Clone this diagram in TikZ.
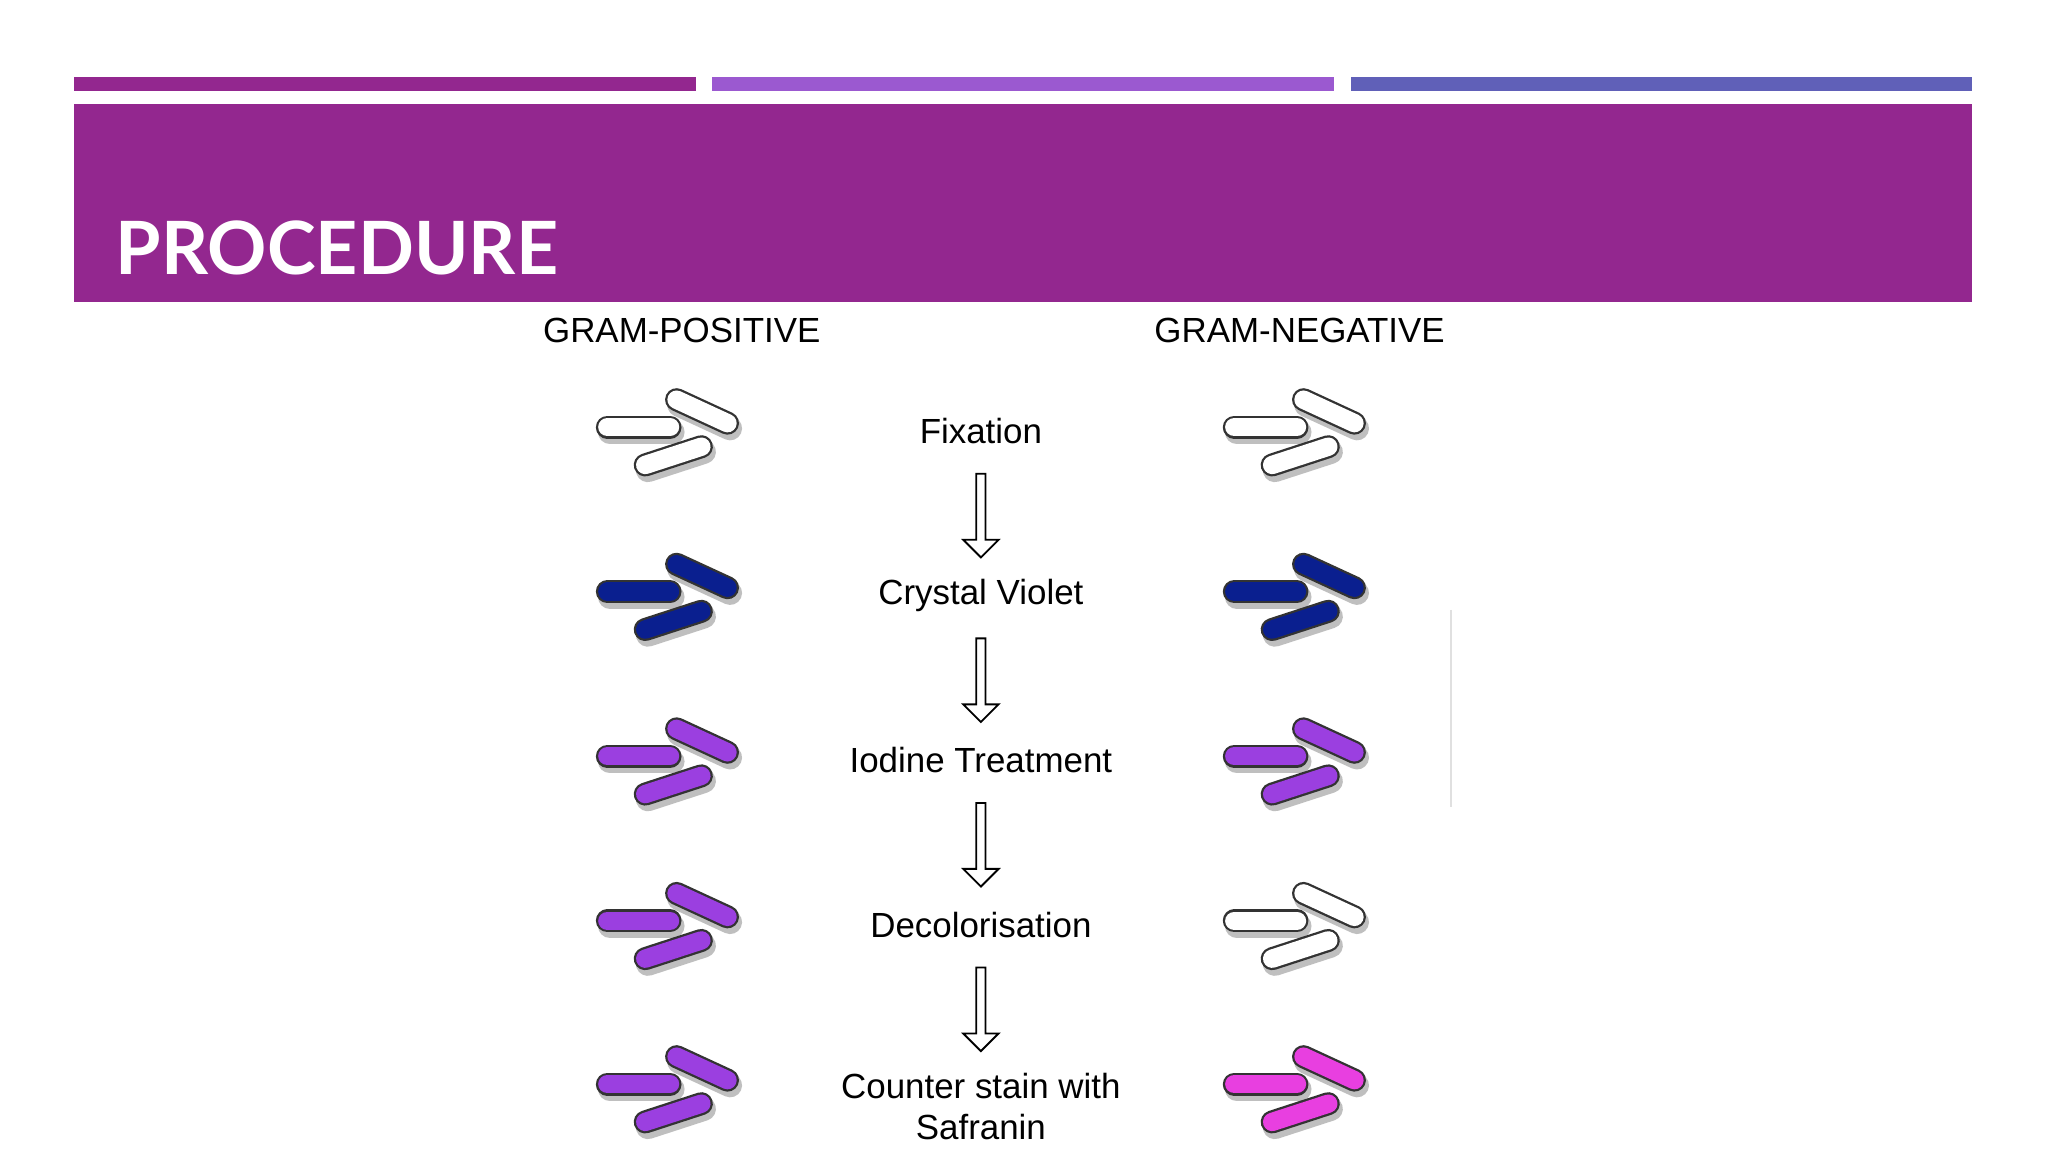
\documentclass[tikz,border=0pt]{standalone}
\usepackage{fontspec}
\setmainfont{Liberation Sans}
\newfontfamily\titlefont{Lato}
\usetikzlibrary{shapes.arrows,positioning}
\definecolor{headpurple}{HTML}{93278F}
\definecolor{barlilac}{HTML}{9B59D0}
\definecolor{barblue}{HTML}{6060B8}
\definecolor{cvnavy}{HTML}{0A1F8F}
\definecolor{iodpurple}{HTML}{9B3FE0}
\definecolor{safpink}{HTML}{E83FE0}
\tikzset{
  steplabel/.style={font=\fontsize{7.6}{9}\selectfont, align=center},
  grouplabel/.style={font=\fontsize{7.6}{9}\selectfont},
  downarrow/.style={single arrow, draw=black, fill=white, line width=0.4pt,
    shape border rotate=270, minimum height=0.64cm, minimum width=0.27cm,
    single arrow head extend=0.07cm, inner sep=0.5pt},
  pics/rods/.style={code={
    \foreach \xa/\ya/\xb/\yb in {-45/-3/3/-3, 8/-24/47/-6, -16/26/27/12}{
      \draw[line width=5.2pt, line cap=round, black!25] (\xa+2,\ya+4) -- (\xb+2,\yb+4);
      \draw[line width=5pt, line cap=round, black!80] (\xa,\ya) -- (\xb,\yb);
      \draw[line width=4pt, line cap=round, #1] (\xa,\ya) -- (\xb,\yb);
    }
  }}
}
\begin{document}
\begin{tikzpicture}[x=0.01cm, y=-0.01cm]
  \useasboundingbox[fill=white] (0,0) rectangle (1568,882);
  % title bars
  \fill[headpurple] (57,59) rectangle (533,70);
  \fill[barlilac] (545,59) rectangle (1021,70);
  \fill[barblue] (1034,59) rectangle (1510,70);
  \fill[headpurple] (57,80) rectangle (1510,231);
  \node[anchor=base west, text=white, font=\titlefont\bfseries\fontsize{16}{19}\selectfont, inner sep=0] (title) at (88,210) {PROCEDURE};
  % column heads
  \node[grouplabel] (pos) at (522,253) {GRAM-POSITIVE};
  \node[grouplabel] (neg) at (995,253) {GRAM-NEGATIVE};
  % steps
  \node[steplabel] (s1) at (751,330) {Fixation};
  \node[steplabel] (s2) at (751,456) {Crystal Violet};
  \node[steplabel] (s3) at (751,582) {Iodine Treatment};
  \node[steplabel] (s4) at (751,708) {Decolorisation};
  \node[steplabel] (s5) at (751,847) {Counter stain with\\Safranin};
  \foreach \y in {393,519,645,771}
    \node[downarrow] at (751,\y) {};
  % bacteria
  \pic at (510,330) {rods=white};
  \pic at (510,456) {rods=cvnavy};
  \pic at (510,582) {rods=iodpurple};
  \pic at (510,708) {rods=iodpurple};
  \pic at (510,833) {rods=iodpurple};
  \pic at (990,330) {rods=white};
  \pic at (990,456) {rods=cvnavy};
  \pic at (990,582) {rods=iodpurple};
  \pic at (990,708) {rods=white};
  \pic at (990,833) {rods=safpink};
  \draw[black!12, line width=0.6pt] (1111,467) -- (1111,618);
\end{tikzpicture}
\end{document}
